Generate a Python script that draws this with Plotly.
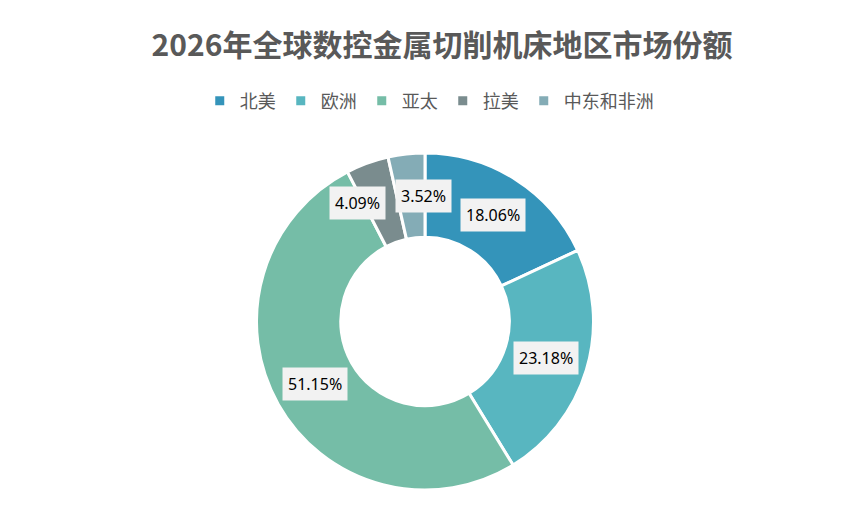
import math
import plotly.graph_objects as go

regions = ["北美", "欧洲", "亚太", "拉美", "中东和非洲"]
shares = [18.06, 23.18, 51.15, 4.09, 3.52]
colors = ["#3494BA", "#58B6C0", "#75BDA7", "#7A8C8E", "#84ACB6"]

W, H = 859, 505
ML, MR, MT, MB = 0, 9, 153, 15
plot_h = H - MT - MB
R_out = plot_h / 2
hole = 0.5
r_lab = R_out * (1 + hole) / 2

# small collision nudges (pixels) for crowded labels, like Excel does
nudge = {3: (-24, 0), 4: (12, 0)}

fig = go.Figure(go.Pie(
    labels=regions, values=shares, hole=hole, sort=False,
    direction="clockwise", rotation=0,
    marker=dict(colors=colors, line=dict(color="white", width=3)),
    textinfo="none", hoverinfo="label+percent",
))

total = sum(shares)
cum = 0
anns = []
for i, v in enumerate(shares):
    mid = (cum + v / 2) / total
    cum += v
    ang = 2 * math.pi * mid
    dx = r_lab * math.sin(ang)
    dy = r_lab * math.cos(ang)
    nx, ny = nudge.get(i, (0, 0))
    anns.append(dict(
        x=0.5, y=0.5, xref="paper", yref="paper",
        xshift=dx + nx, yshift=dy + ny,
        text=f"{v:.2f}%", showarrow=False,
        font=dict(family="Noto Sans, DejaVu Sans", size=16, color="#000000"),
        bgcolor="#F2F2F2", borderpad=5,
    ))

fig.update_layout(
    width=W, height=H,
    margin=dict(l=ML, r=MR, t=MT, b=MB),
    paper_bgcolor="white", plot_bgcolor="white",
    title=dict(
        text="<b>2026年全球数控金属切削机床地区市场份额</b>",
        x=442 / W, xref="container", xanchor="center",
        y=1 - 45 / H, yref="container", yanchor="middle",
        font=dict(family="Noto Sans CJK SC", size=30, color="#595959"),
    ),
    legend=dict(
        orientation="h", x=0.505, xanchor="center",
        y=1 + (MT - 101) / plot_h, yanchor="middle",
        font=dict(family="Noto Sans CJK SC", size=18, color="#595959"),
        itemwidth=30, tracegroupgap=0,
        traceorder="normal",
    ),
    annotations=anns,
)

fig.write_html("out.html")
